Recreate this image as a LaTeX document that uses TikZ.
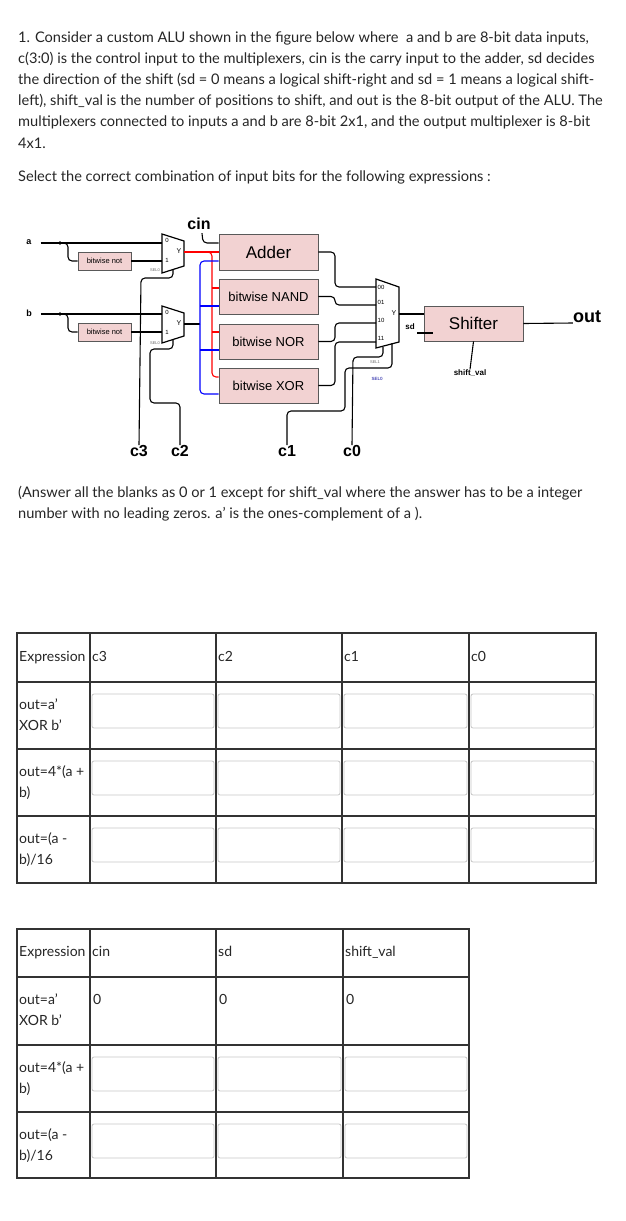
\documentclass[tikz,border=0pt]{standalone}
\usepackage{fontspec}
\setmainfont{Lato}
\newfontfamily\arial{Liberation Sans}
\definecolor{boxpink}{RGB}{242,210,210}
\begin{document}
\begin{tikzpicture}[x=1pt,y=-1pt,
  txt/.style={anchor=base west,inner sep=0pt,font=\fontsize{14.6}{16}\selectfont,text=black!85},
  ctxt/.style={anchor=base west,inner sep=0pt,font=\fontsize{14}{15}\selectfont,text=black!85},
  blk/.style={draw=black!65,fill=boxpink,line width=0.8pt,inner sep=0pt,font=\arial\fontsize{13}{15}\selectfont},
  notb/.style={draw=black!65,fill=boxpink,line width=0.6pt,inner sep=0pt,minimum width=53,minimum height=18,font=\arial\fontsize{7.5}{9}\selectfont},
  wire/.style={line width=1.1pt,rounded corners=4pt},
  redw/.style={wire,red},
  bluew/.style={wire,blue},
  muxs/.style={line width=1.2pt},
  tiny/.style={inner sep=0pt,font=\arial\fontsize{6}{7}\selectfont},
  lbl/.style={inner sep=0pt,font=\arial\bfseries\fontsize{16}{18}\selectfont},
  tb/.style={line width=1.6pt,draw=black!80},
  inbox/.style={draw=black!22,line width=0.8pt,rounded corners=2pt}]
\useasboundingbox[fill=white] (0,0) rectangle (626,1221);
% paragraph
\node[txt] (p1) at (18,42) {1. Consider a custom ALU shown in the figure below where \ a and b are 8-bit data inputs,};
\node[txt] (p2) at (18,63) {c(3:0) is the control input to the multiplexers, cin is the carry input to the adder, sd decides};
\node[txt] (p3) at (18,84) {the direction of the shift (sd = 0 means a logical shift-right and sd = 1 means a logical shift-};
\node[txt] (p4) at (18,105) {left), shift\_val is the number of positions to shift, and out is the 8-bit output of the ALU. The};
\node[txt] (p5) at (18,126) {multiplexers connected to inputs a and b are 8-bit 2x1, and the output multiplexer is 8-bit};
\node[txt] (p6) at (18,148) {4x1.};
\node[txt] (p7) at (18,181) {Select the correct combination of input bits for the following expressions :};
% boxes
\node[blk,minimum width=99,minimum height=36,font=\arial\fontsize{17}{19}\selectfont] (adder) at (268.5,252) {Adder};
\node[blk,minimum width=99,minimum height=35] (nand) at (268.5,296.5) {bitwise NAND};
\node[blk,minimum width=99,minimum height=35] (nor) at (268.5,341.5) {bitwise NOR};
\node[blk,minimum width=99,minimum height=35] (xor) at (268.5,385.5) {bitwise XOR};
\node[blk,minimum width=99,minimum height=35,font=\arial\fontsize{17}{19}\selectfont] (shift) at (473.5,323.5) {Shifter};
\node[notb] (nota) at (104.5,261) {bitwise not};
\node[notb] (notb) at (104.5,332) {bitwise not};
% labels
\node[lbl,font=\arial\bfseries\fontsize{9}{10}\selectfont] (la) at (29,242) {a};
\node[lbl,font=\arial\bfseries\fontsize{9}{10}\selectfont] (lb) at (29,313) {b};
\node[lbl] (lcin) at (199,224) {cin};
\node[lbl] (lc3) at (139,451) {c3};
\node[lbl] (lc2) at (180,451) {c2};
\node[lbl] (lc1) at (287,451) {c1};
\node[lbl] (lc0) at (352,451) {c0};
\node[lbl,font=\arial\bfseries\fontsize{18}{20}\selectfont] (lout) at (587,317) {out};
\node[lbl,font=\arial\bfseries\fontsize{8}{9}\selectfont] (lsd) at (410,327) {sd};
\node[lbl,font=\arial\bfseries\fontsize{8}{9}\selectfont] (lsv) at (470,373) {shift\_val};
% muxes
\draw[muxs] (162,234) coordinate (ma) -- (184,241) -- (184,266) -- (162,273) -- cycle;
\draw[muxs] (162,306) coordinate (mb) -- (184,313) -- (184,336) -- (162,343) -- cycle;
\draw[muxs] (376,279) coordinate (mo) -- (399,287) -- (399,342) -- (376,348) -- cycle;
\node[tiny] at (167,240) {0}; \node[tiny] at (167,260) {1}; \node[tiny,font=\arial\fontsize{7}{8}\selectfont] at (179,251) {Y};
\node[tiny] at (167,312) {0}; \node[tiny] at (167,332) {1}; \node[tiny,font=\arial\fontsize{7}{8}\selectfont] at (179,323) {Y};
\node[tiny,font=\arial\fontsize{4}{5}\selectfont,text=black!60] at (155,270) {SEL0};
\node[tiny,font=\arial\fontsize{4}{5}\selectfont,text=black!60] at (155,343) {SEL0};
\node[tiny] at (381,287) {00}; \node[tiny] at (381,302) {01}; \node[tiny] at (381,320) {10}; \node[tiny] at (381,338) {11};
\node[tiny,font=\arial\fontsize{7}{8}\selectfont] at (394,313) {Y};
\node[tiny,font=\arial\fontsize{4}{5}\selectfont,text=black!60] at (375,362) {SEL1};
\node[tiny,font=\arial\fontsize{4.5}{5}\selectfont,text=blue!60!black] at (377,379) {SEL0};
% input wires
\draw[wire] (la.east)+(9,1) coordinate (ai) -- (162,243);
\fill (60,243) circle (1.8);
\draw[wire] (60,243) -- (68,243) -- (68,261) -- (nota.west);
\draw[wire] (nota.east) -- (162,261);
\draw[wire] (lb.east)+(9,1) coordinate (bi) -- (162,314);
\fill (60,314) circle (1.8);
\draw[wire] (60,314) -- (68,314) -- (68,332) -- (notb.west);
\draw[wire] (notb.east) -- (162,332);
% select lines
\draw[wire] (173,270) -- (173,278) -- (141,278) -- (lc3.north);
\draw[wire] (173,340) -- (173,349) -- (150,349) -- (150,403) -- (180,403) -- (lc2.north);
\draw[wire] (lcin.south)++(3,3) -- (203,243) -- (adder.west |- 0,243);
% red and blue
\draw[redw] (184,252) -- (adder.west |- 0,252);
\draw[redw] (205,252) -- (212,252) -- (212,377) -- (xor.west |- 0,377);
\draw[redw] (212,288) -- (nand.west |- 0,288);
\draw[redw] (212,332) -- (nor.west |- 0,332);
\draw[wire] (184,324) -- (200,324);
\draw[bluew] (200,324) -- (200,261) -- (adder.west |- 0,261);
\draw[bluew] (200,324) -- (200,394) -- (xor.west |- 0,394);
\draw[bluew] (200,306) -- (nand.west |- 0,306);
\draw[bluew] (200,350) -- (nor.west |- 0,350);
% to output mux
\draw[wire] (adder.east) -- (335,252) -- (335,287) -- (376,287);
\draw[wire] (nand.east) -- (335,296.5) -- (335,305) -- (376,305);
\draw[wire] (nor.east) -- (335,341.5) -- (335,323) -- (376,323);
\draw[wire] (xor.east) -- (335,385.5) -- (335,342) -- (376,342);
\draw[wire] (lc1.north) -- (287,411) -- (345,411) -- (345,368) -- (392,368) -- (392,343);
\draw[wire] (lc0.north) -- (353,357) -- (383,357) -- (383,347);
% shifter
\draw[wire] (399,314) -- (shift.west |- 0,314);
\draw[wire] (417,333) -- (shift.west |- 0,333) -- ++(9,0);
\draw[wire] (shift.east) -- (lout.west |- 0,323);
\draw[wire] (shift.south) -- (lsv.north);
% note
\node[txt] (q1) at (18,497) {(Answer all the blanks as 0 or 1 except for shift\_val where the answer has to be a integer};
\node[txt] (q2) at (18,518) {number with no leading zeros. a' is the ones-complement of a ).};
% table 1
\draw[tb] (17,633) rectangle (596,883);
\foreach \x in {90,216,342,469} \draw[tb] (\x,633) -- (\x,883);
\foreach \y in {682,749,816} \draw[tb] (17,\y) -- (596,\y);
\node[ctxt] (t1h) at (19,661) {Expression};
\node[ctxt] at (92,661) {c3}; \node[ctxt] at (218,661) {c2}; \node[ctxt] at (344,661) {c1}; \node[ctxt] at (471,661) {c0};
\foreach \yy/\la/\lb in {682/out=a'/XOR b',749/out=4*(a +/b),816/out=(a -/{b)/16}}{
  \node[ctxt] at (19,\yy+27) {\la}; \node[ctxt] at (19,\yy+48) {\lb};
  \foreach \xa/\xb in {90/216,216/342,342/469,469/596}
    \draw[inbox] (\xa+2,\yy+12) rectangle (\xb-2,\yy+46);}
% table 2
\draw[tb] (17,929) rectangle (469,1178);
\foreach \x in {90,216,343} \draw[tb] (\x,929) -- (\x,1178);
\foreach \y in {977,1045,1112} \draw[tb] (17,\y) -- (469,\y);
\node[ctxt] (t2h) at (19,956) {Expression};
\node[ctxt] at (92,956) {cin}; \node[ctxt] at (218,956) {sd}; \node[ctxt] at (345,956) {shift\_val};
\foreach \yy/\la/\lb in {977/out=a'/XOR b',1045/out=4*(a +/b),1112/out=(a -/{b)/16}}{
  \node[ctxt] at (19,\yy+27) {\la}; \node[ctxt] at (19,\yy+48) {\lb};}
\node[ctxt] at (93,1004) {0}; \node[ctxt] at (219,1004) {0}; \node[ctxt] at (346,1004) {0};
\foreach \yy in {1045,1112}
  \foreach \xa/\xb in {90/216,216/343,343/469}
    \draw[inbox] (\xa+2,\yy+12) rectangle (\xb-2,\yy+46);
\end{tikzpicture}
\end{document}
